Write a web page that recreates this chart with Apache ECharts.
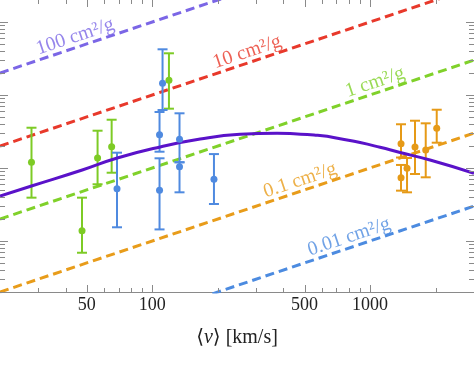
<!DOCTYPE html>
<html><head><meta charset="utf-8">
<script src="https://cdn.jsdelivr.net/npm/echarts@6/dist/echarts.min.js"></script>
<style>html,body{margin:0;padding:0;background:#fff}#c{width:474px;height:366px}</style>
</head><body><div id="c"></div>
<script>
// ---- axis ranges & ticks ----
const X_RANGE = [20, 3000];
const Y_RANGE = [2, 20000];
const X_TICK_LABELS = [50, 100, 500, 1000];
const X_MAJOR_TICKS = [50, 100, 500, 1000];
const X_MINOR_TICKS = [30, 40, 60, 70, 80, 90, 200, 300, 400, 600, 700, 800, 900, 2000, 3000];
const Y_MAJOR_TICKS = [10, 100, 1000, 10000];
const Y_MINOR_TICKS = [2, 3, 4, 5, 6, 7, 8, 9, 20, 30, 40, 50, 60, 70, 80, 90,
  200, 300, 400, 500, 600, 700, 800, 900, 2000, 3000, 4000, 5000, 6000, 7000, 8000, 9000];

// ---- constant cross-section lines (value = sigma/m * v) ----
const SIGMA_LABELS = ['100 cm²/g', '10 cm²/g', '1 cm²/g', '0.1 cm²/g', '0.01 cm²/g'];
const SIGMA = [100, 10, 1, 0.1, 0.01];
const LINE_100 = [[20, 2000], [3000, 300000]];
const LINE_10 = [[20, 200], [3000, 30000]];
const LINE_1 = [[20, 20], [3000, 3000]];
const LINE_01 = [[20, 2], [3000, 300]];
const LINE_001 = [[20, 0.2], [3000, 30]];

// ---- fit curve ----
const FIT_V = [20, 27.9, 47.7, 69.1, 108.8, 166, 253, 374, 463, 553, 635, 729, 900, 1111, 1373, 1885, 3000];
const FIT_Y = [41.3, 56.6, 93.8, 137, 194, 249, 289, 299, 292, 283, 271.6, 251, 222.8, 192, 163, 128.6, 84.6];

// ---- data points ----
const GREEN_V = [27.9, 47.6, 56.1, 65.1, 119.3];
const GREEN_Y = [119.7, 13.8, 137, 195.7, 1589];
const GREEN_LO = [39.2, 6.9, 59.8, 86.1, 649];
const GREEN_HI = [356, 39.2, 324, 458, 3724];

const BLUE_V = [68.9, 111.5, 108, 108, 133.4, 133.4, 192];
const BLUE_Y = [52.0, 1445, 286, 49.4, 247, 104, 70];
const BLUE_LO = [15.4, 622, 167, 14.4, 119.7, 46.4, 32.1];
const BLUE_HI = [162, 4224, 585, 135.7, 561, 119.7, 155];

const ORANGE_V = [1387, 1387, 1478, 1608, 1801, 2023];
const ORANGE_Y = [215, 73.6, 99, 194, 176, 350];
const ORANGE_LO = [139, 48.9, 46.4, 82.7, 74.5, 222];
const ORANGE_HI = [397, 110, 137, 444, 409, 628];

// ---- label placement (style) ----
const LABEL_V = [44.3, 273, 1054, 477, 801];
const LABEL_LIFT = 1.415;

const C_LINES = ['#7b66e6', '#e8392b', '#80d12a', '#e89c1a', '#4c8be0'];
const C_GREEN = '#7dcb25', C_BLUE = '#4f8ae0', C_ORANGE = '#e69a17', C_FIT = '#5a12c9';
const FONT = "'Liberation Serif', 'DejaVu Serif', serif";
const TICK_C = '#8a8a8a';

const chart = echarts.init(document.getElementById('c'), null, {renderer: 'canvas'});

function errSeries(V, LO, HI, color) {
  return {
    type: 'custom', z: 3,
    data: V.map((v, i) => [v, LO[i], HI[i]]),
    encode: {x: 0, y: [1, 2]},
    renderItem: function (params, api) {
      const a = api.coord([api.value(0), api.value(1)]);
      const b = api.coord([api.value(0), api.value(2)]);
      const w = 5, st = {stroke: color, lineWidth: 2};
      return {type: 'group', children: [
        {type: 'line', shape: {x1: a[0], y1: a[1], x2: b[0], y2: b[1]}, style: st},
        {type: 'line', shape: {x1: a[0] - w, y1: a[1], x2: a[0] + w, y2: a[1]}, style: st},
        {type: 'line', shape: {x1: b[0] - w, y1: b[1], x2: b[0] + w, y2: b[1]}, style: st}
      ]};
    }
  };
}
function ptSeries(V, Y, color) {
  return {type: 'scatter', z: 4, symbolSize: 7, itemStyle: {color: color, opacity: 1},
    data: V.map((v, i) => [v, Y[i]])};
}
function dashed(data, color) {
  return {type: 'line', data: data, symbol: 'none', z: 2, silent: true,
    lineStyle: {color: color, width: 3, type: [9, 5]}};
}

const xTickData = X_MAJOR_TICKS.map(v => [v, Y_RANGE[0], 7]).concat(X_MINOR_TICKS.map(v => [v, Y_RANGE[0], 4]));
const yTickData = Y_MAJOR_TICKS.map(v => [X_RANGE[0], v, 8]).concat(Y_MINOR_TICKS.map(v => [X_RANGE[0], v, 5]));

const option = {
  animation: false,
  backgroundColor: '#fff',
  grid: {left: 0, right: 0, top: 0, bottom: 74},
  xAxis: [{
    type: 'log', logBase: 10, min: X_RANGE[0], max: X_RANGE[1], position: 'bottom',
    axisLine: {show: true, lineStyle: {color: TICK_C, width: 1}},
    axisTick: {show: false}, axisLabel: {show: false}, splitLine: {show: false},
    name: '{a|⟨}{b|v}{a|⟩ [km/s]}', nameLocation: 'middle', nameGap: 46,
    nameTextStyle: {verticalAlign: 'middle', rich: {
      a: {fontFamily: FONT, fontSize: 20, color: '#222'},
      b: {fontFamily: FONT, fontSize: 20, fontStyle: 'italic', color: '#222'}
    }}
  }],
  yAxis: [{
    type: 'log', logBase: 10, min: Y_RANGE[0], max: Y_RANGE[1],
    axisLine: {show: false}, axisTick: {show: false}, axisLabel: {show: false}, splitLine: {show: false}
  }],
  series: [
    dashed(LINE_100, C_LINES[0]),
    dashed(LINE_10, C_LINES[1]),
    dashed(LINE_1, C_LINES[2]),
    dashed(LINE_01, C_LINES[3]),
    dashed(LINE_001, C_LINES[4]),
    {
      type: 'scatter', symbolSize: 0, z: 5, silent: true,
      data: SIGMA.map((s, i) => ({value: [LABEL_V[i], s * LABEL_V[i] * LABEL_LIFT],
        label: {formatter: SIGMA_LABELS[i], color: C_LINES[i]}})),
      label: {show: true, position: 'inside', rotate: 18.5, fontFamily: FONT, fontSize: 20,
        align: 'center', verticalAlign: 'middle'}
    },
    {type: 'line', data: FIT_V.map((v, i) => [v, FIT_Y[i]]), symbol: 'none', smooth: 0.5, z: 3,
      lineStyle: {color: C_FIT, width: 3}},
    errSeries(GREEN_V, GREEN_LO, GREEN_HI, C_GREEN),
    errSeries(BLUE_V, BLUE_LO, BLUE_HI, C_BLUE),
    errSeries(ORANGE_V, ORANGE_LO, ORANGE_HI, C_ORANGE),
    ptSeries(GREEN_V, GREEN_Y, C_GREEN),
    ptSeries(BLUE_V, BLUE_Y, C_BLUE),
    ptSeries(ORANGE_V, ORANGE_Y, C_ORANGE),
    { // x ticks on bottom and top frame
      type: 'custom', silent: true, z: 6, data: xTickData, encode: {x: 0, y: 1},
      renderItem: function (params, api) {
        const cs = params.coordSys;
        const p = api.coord([api.value(0), api.value(1)]);
        const len = api.value(2), st = {stroke: TICK_C, lineWidth: 1};
        const x = Math.round(p[0]) + 0.5;
        return {type: 'group', children: [
          {type: 'line', shape: {x1: x, y1: cs.y + cs.height, x2: x, y2: cs.y + cs.height - len}, style: st},
          {type: 'line', shape: {x1: x, y1: cs.y, x2: x, y2: cs.y + len}, style: st}
        ]};
      }
    },
    { // y ticks on left and right frame
      type: 'custom', silent: true, z: 6, data: yTickData, encode: {x: 0, y: 1},
      renderItem: function (params, api) {
        const cs = params.coordSys;
        const p = api.coord([api.value(0), api.value(1)]);
        const len = api.value(2), st = {stroke: TICK_C, lineWidth: 1};
        const y = Math.round(p[1]) + 0.5;
        return {type: 'group', children: [
          {type: 'line', shape: {x1: cs.x, y1: y, x2: cs.x + len, y2: y}, style: st},
          {type: 'line', shape: {x1: cs.x + cs.width, y1: y, x2: cs.x + cs.width - len, y2: y}, style: st}
        ]};
      }
    },
    { // x tick labels
      type: 'custom', silent: true, z: 6, data: X_TICK_LABELS.map(v => [v, Y_RANGE[0]]), encode: {x: 0, y: 1},
      renderItem: function (params, api) {
        const p = api.coord([api.value(0), api.value(1)]);
        return {type: 'text', x: p[0], y: p[1] + 13, style: {
          text: String(api.value(0)), font: '18px ' + FONT, fill: '#222',
          align: 'center', verticalAlign: 'middle', textAlign: 'center', textVerticalAlign: 'middle'}};
      }
    }
  ]
};
chart.setOption(option);
</script></body></html>
